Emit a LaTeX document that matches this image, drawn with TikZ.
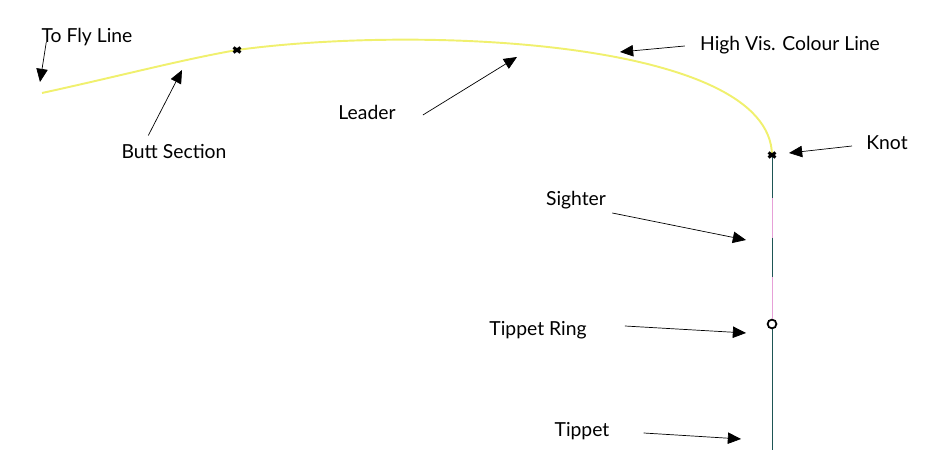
\documentclass[tikz,border=0pt]{standalone}
\usepackage{fontspec}
\setmainfont{Lato}
\usepackage{xcolor}
\usepackage{tikz}
\usetikzlibrary{arrows.meta, positioning, calc}
\definecolor{hivisyellow}{RGB}{240,240,110}
\definecolor{tippetteal}{RGB}{30,85,85}
\definecolor{sighterpink}{RGB}{230,160,215}

\begin{document}
\begin{tikzpicture}[
    x=0.02cm, y=-0.02cm,
    hivis/.style={hivisyellow, line width=1.1pt},
    mono/.style={tippetteal, line width=0.55pt},
    sighter/.style={sighterpink, line width=0.55pt},
    knot/.style={line width=1.7pt, black},
    ring/.style={circle, draw, line width=1pt, fill=white, inner sep=0pt, minimum size=5pt},
    label/.style={font=\fontsize{11}{13}\selectfont, inner sep=0pt},
    arrow/.style={-{Triangle[length=7.5pt, width=6.5pt]}, thin}
]
\useasboundingbox (0,0) rectangle (925,475);

% Line points
\coordinate (flyend) at (42,93);
\coordinate (buttknot) at (237,50);
\coordinate (topknot) at (772,155);
\coordinate (pinkA) at (772,198);
\coordinate (pinkB) at (772,238);
\coordinate (pinkC) at (772,277);
\coordinate (tipend) at (772,450);

% Butt section and leader
\draw[hivis] (flyend) .. controls (120,76) and (180,60) .. (buttknot);
\draw[hivis] (buttknot) .. controls (420,25) and (770,40) .. (topknot);

% Sighter and tippet
\node[ring] (tring) at (772,324) {};
\draw[mono] (topknot) -- (pinkA);
\draw[sighter] (pinkA) -- (pinkB);
\draw[mono] (pinkB) -- (pinkC);
\draw[sighter] (pinkC) -- (tring.north);
\draw[mono] (tring.south) -- (tipend);

% Knots
\foreach \k in {buttknot, topknot} {
  \draw[knot] ($(\k)+(-3.5,-2.5)$) -- ($(\k)+(3.5,2.5)$);
  \draw[knot] ($(\k)+(-3.5,2.5)$) -- ($(\k)+(3.5,-2.5)$);
}

% Labels
\node[label] (flyline) at (87,37) {To Fly Line};
\node[label] (butt) at (174,152) {Butt Section};
\node[label] (leader) at (367,112) {Leader};
\node[label] (hivislbl) at (790,45) {High Vis. Colour Line};
\node[label] (knotlbl) at (887,143) {Knot};
\node[label] (sighterlbl) at (576,200) {Sighter};
\node[label] (ringlbl) at (538,330) {Tippet Ring};
\node[label] (tippetlbl) at (582,431) {Tippet};

% Arrow targets
\coordinate (flytip) at (40,82);
\coordinate (butttip) at (182,70);
\coordinate (leadertip) at (517,57);
\coordinate (hivistip) at (620,52);
\coordinate (knottip) at (789,153);
\coordinate (sightertip) at (746,240);
\coordinate (ringtip) at (746,333);
\coordinate (tippettip) at (741,439);

% Arrows
\draw[arrow] ($(flyline.south west)+(5,-4)$) -- (flytip);
\draw[arrow] ($(butt.north west)+(27,-9)$) -- (butttip);
\draw[arrow] ($(leader.east)+(27,3)$) -- (leadertip);
\draw[arrow] ($(hivislbl.west)+(-15,1)$) -- (hivistip);
\draw[arrow] ($(knotlbl.west)+(-14,3)$) -- (knottip);
\draw[arrow] ($(sighterlbl.east)+(6,13)$) -- (sightertip);
\draw[arrow] ($(ringlbl.east)+(38,-4)$) -- (ringtip);
\draw[arrow] ($(tippetlbl.east)+(34,2)$) -- (tippettip);

\end{tikzpicture}
\end{document}
